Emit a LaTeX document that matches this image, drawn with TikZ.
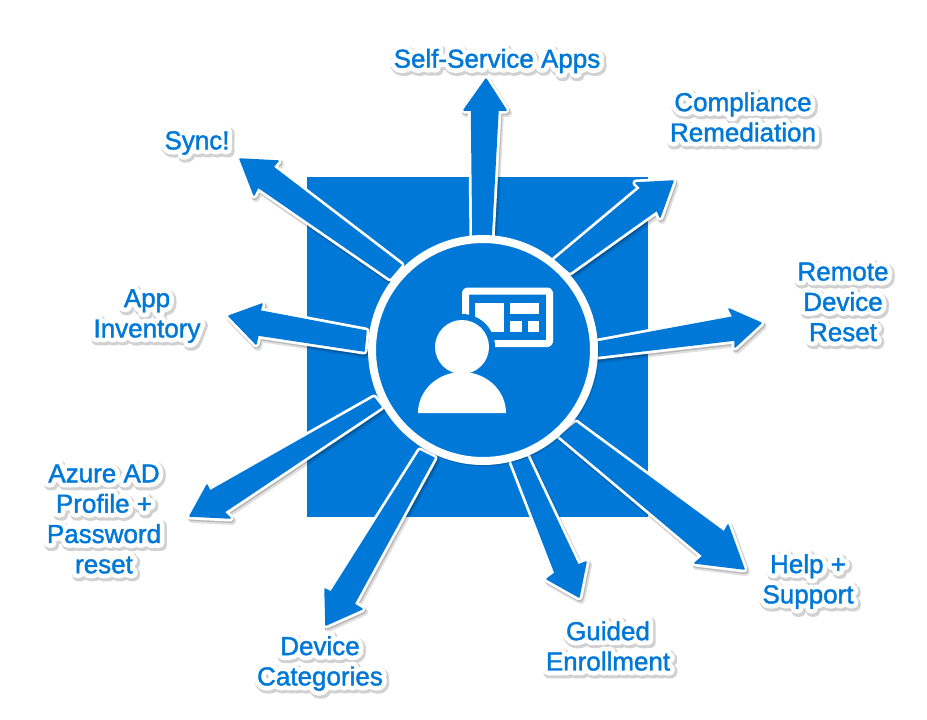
\documentclass[tikz,border=0pt]{standalone}
\usepackage{fontspec}
\newfontfamily\lblfont[FakeBold=1.5]{Liberation Sans}
\newfontfamily\halofont[FakeBold=38]{Liberation Sans}
\newfontfamily\shadefont[FakeBold=46]{Liberation Sans}
\definecolor{azure}{HTML}{0078D7}
\definecolor{softgray}{gray}{0.82}
\tikzset{
  spoke/.style={fill=azure, draw=azure, line width=1.5pt,
    preaction={draw=black, draw opacity=.12, line width=8pt, transform canvas={shift={(2pt,-3pt)}}},
    preaction={draw=black, draw opacity=.18, line width=7pt, transform canvas={shift={(1pt,-1.5pt)}}},
    preaction={draw=white, line width=7pt}},
  lbl/.style={align=center, inner sep=0pt, text=azure, font=\lblfont\fontsize{26}{30.3}\selectfont},
  lblhalo/.style={align=center, inner sep=0pt, text=white, font=\halofont\fontsize{26}{30.3}\selectfont},
  lblshadow/.style={align=center, inner sep=0pt, text=softgray, font=\shadefont\fontsize{26}{30.3}\selectfont, xshift=1.5pt, yshift=-2pt},
  glyph/.style={fill=white, draw=none}
}
\newcommand{\lblnode}[3]{
\node [lblshadow] (#1shadow) at (#2) {#3};
\node [lblhalo] (#1halo) at (#2) {#3};
\node [lbl] (#1) at (#2) {#3};
}
\begin{document}
\special{pdf:code 1 j 1 J}
\begin{tikzpicture}[x=1pt, y=-1pt, line join=round]
\useasboundingbox (0,0) rectangle (927,720);
\fill [azure] (307,177) rectangle (648,517);

\draw [spoke] (473,240) -- (471.5,110) -- (464,110) -- (486,79) -- (506,110) -- (498,110) -- (491,240) -- cycle;
\draw [spoke] (555,260) -- (641,188) -- (636,183) -- (673,181) -- (660,217) -- (657,210) -- (570,272) -- cycle;
\draw [spoke] (598,342) -- (733,317) -- (729,309) -- (761,323) -- (735,347) -- (735,340) -- (598,356) -- cycle;
\draw [spoke] (576,423) -- (724,532) -- (728,525) -- (744,569) -- (695,563) -- (703,556) -- (560,436) -- cycle;
\draw [spoke] (512,462) -- (555,573) -- (547,579) -- (579,597) -- (586,562) -- (578,565) -- (527,457) -- cycle;
\draw [spoke] (420,451) -- (331,592) -- (325,589) -- (326,625) -- (362,609) -- (354,604) -- (434,458) -- cycle;
\draw [spoke] (374,398) -- (210,491) -- (207,485) -- (190,516) -- (230,518) -- (224,512) -- (381,407) -- cycle;
\draw [spoke] (366,331) -- (260,311) -- (262,304) -- (229,316) -- (256,344) -- (258,335) -- (364,351) -- cycle;
\draw [spoke] (401,265) -- (273,167) -- (278,161) -- (240,159) -- (254,195) -- (258,187) -- (390,278) -- cycle;

\draw [black, draw opacity=.15, line width=8pt, transform canvas={shift={(1pt,-1.5pt)}}] (483,350) circle (111);
\draw [white, fill=azure, line width=8pt] (483,350) circle (111);

\draw [white, line width=7pt, rounded corners=1.5pt] (465.5,291) rectangle (549.5,343.5);
\fill [glyph] (475,303) rectangle (504,332);
\fill [glyph] (510,303) rectangle (539,314);
\fill [glyph] (510,321) rectangle (522,332);
\fill [glyph] (528,321) rectangle (539,332);
\fill [azure] (462,347) circle (33);
\fill [glyph] (462,347) circle (27);
\fill [glyph] (418,413) arc (180:360:44 and 41) -- cycle;

\lblnode{selfservice}{497,61}{Self-Service Apps}
\lblnode{compliance}{743,117}{Compliance\\Remediation}
\lblnode{remote}{843,302}{Remote\\Device\\Reset}
\lblnode{help}{808,581.5}{Help +\\Support}
\lblnode{guided}{608,646}{Guided\\Enrollment}
\lblnode{device}{320,663.5}{Device\\Categories}
\lblnode{azuread}{104,519}{Azure AD\\Profile +\\Password\\reset}
\lblnode{inventory}{147,316}{App\\Inventory}
\lblnode{sync}{197,143}{Sync!}
\end{tikzpicture}
\end{document}
